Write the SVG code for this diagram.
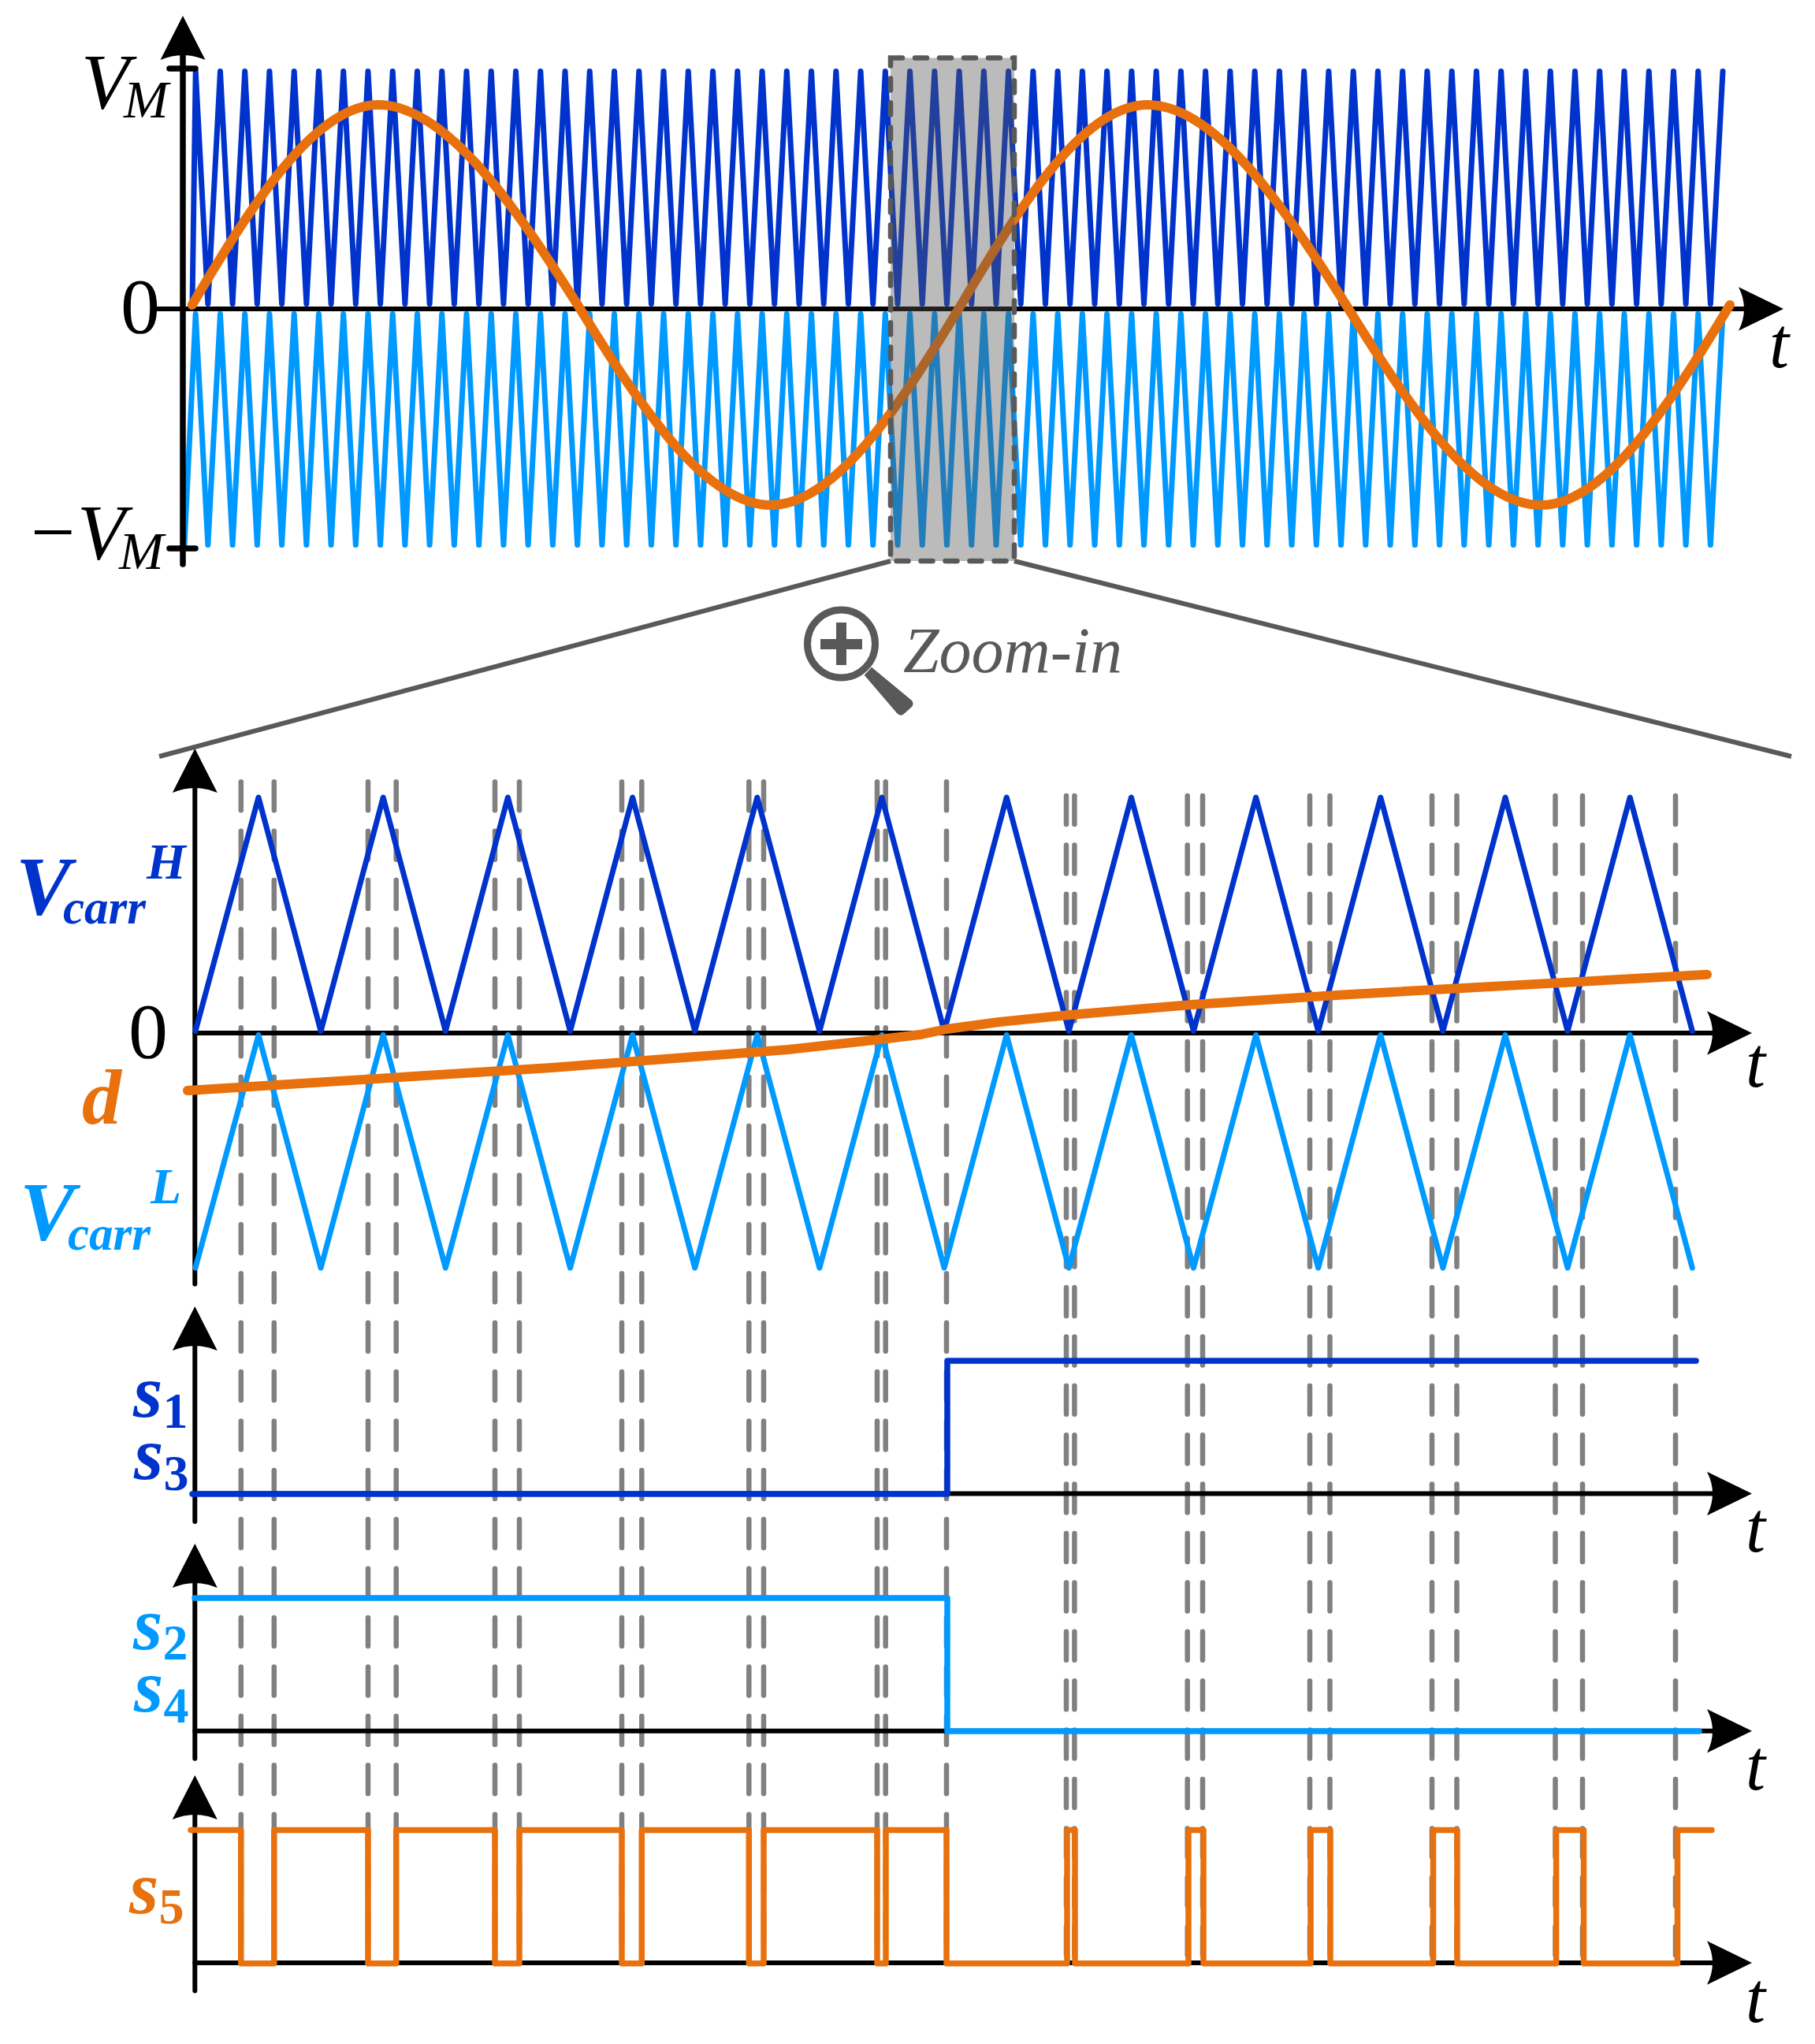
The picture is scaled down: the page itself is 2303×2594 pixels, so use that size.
<svg xmlns="http://www.w3.org/2000/svg" width="2303" height="2594" viewBox="0 0 2303 2594">
<style>
.ln{fill:none;stroke-linejoin:round;stroke-linecap:round}
.k{fill:none;stroke:#000;stroke-linecap:round}
.hi{stroke:#0033CC}.lo{stroke:#0099FF}.or{stroke:#E8700D}
.dash{fill:none;stroke:#808080;stroke-width:6.5;stroke-linecap:round;stroke-dasharray:36 26.4}
text{font-family:"Liberation Serif","Times New Roman",serif}
.i{font-style:italic}.bi{font-style:italic;font-weight:bold}.b{font-weight:bold}
.fhi{fill:#0033CC}.flo{fill:#0099FF}.for{fill:#E8700D}
.gy{fill:#595959}
</style>
<defs>
<path id="up" d="M0,0L28.5,56Q0,44 -28.5,56Z" fill="#000"/>
<path id="right" d="M0,0L-57,-27.8Q-43,0 -57,27.8Z" fill="#000"/>
</defs>
<rect width="2303" height="2594" fill="#fff"/>

<g id="overview-plot">
<path class="ln hi" stroke-width="7" d="M244,385.5L248.2,90.5l15.6275 295 15.6275 -295 15.6275 295 15.6275 -295 15.6275 295 15.6275 -295 15.6275 295 15.6275 -295 15.6275 295 15.6275 -295 15.6275 295 15.6275 -295 15.6275 295 15.6275 -295 15.6275 295 15.6275 -295 15.6275 295 15.6275 -295 15.6275 295 15.6275 -295
15.6275 295 15.6275 -295 15.6275 295 15.6275 -295 15.6275 295 15.6275 -295 15.6275 295 15.6275 -295 15.6275 295 15.6275 -295 15.6275 295 15.6275 -295 15.6275 295 15.6275 -295 15.6275 295 15.6275 -295 15.6275 295 15.6275 -295 15.6275 295 15.6275 -295
15.6275 295 15.6275 -295 15.6275 295 15.6275 -295 15.6275 295 15.6275 -295 15.6275 295 15.6275 -295 15.6275 295 15.6275 -295 15.6275 295 15.6275 -295 15.6275 295 15.6275 -295 15.6275 295 15.6275 -295 15.6275 295 15.6275 -295 15.6275 295 15.6275 -295
15.6275 295 15.6275 -295 15.6275 295 15.6275 -295 15.6275 295 15.6275 -295 15.6275 295 15.6275 -295 15.6275 295 15.6275 -295 15.6275 295 15.6275 -295 15.6275 295 15.6275 -295 15.6275 295 15.6275 -295 15.6275 295 15.6275 -295 15.6275 295 15.6275 -295
15.6275 295 15.6275 -295 15.6275 295 15.6275 -295 15.6275 295 15.6275 -295 15.6275 295 15.6275 -295 15.6275 295 15.6275 -295 15.6275 295 15.6275 -295 15.6275 295 15.6275 -295 15.6275 295 15.6275 -295 15.6275 295 15.6275 -295 15.6275 295 15.6275 -295
15.6275 295 15.6275 -295 15.6275 295 15.6275 -295 15.6275 295 15.6275 -295 15.6275 295 15.6275 -295 15.6275 295 15.6275 -295 15.6275 295 15.6275 -295 15.6275 295 15.6275 -295 15.6275 295 15.6275 -295 15.6275 295 15.6275 -295 15.6275 295 15.6275 -295
15.6275 295 15.6275 -295 15.6275 295 15.6275 -295"/>
<path class="ln lo" stroke-width="7" d="M234,691.5L248.2,398.5l15.6275 293 15.6275 -293 15.6275 293 15.6275 -293 15.6275 293 15.6275 -293 15.6275 293 15.6275 -293 15.6275 293 15.6275 -293 15.6275 293 15.6275 -293 15.6275 293 15.6275 -293 15.6275 293 15.6275 -293 15.6275 293 15.6275 -293 15.6275 293 15.6275 -293
15.6275 293 15.6275 -293 15.6275 293 15.6275 -293 15.6275 293 15.6275 -293 15.6275 293 15.6275 -293 15.6275 293 15.6275 -293 15.6275 293 15.6275 -293 15.6275 293 15.6275 -293 15.6275 293 15.6275 -293 15.6275 293 15.6275 -293 15.6275 293 15.6275 -293
15.6275 293 15.6275 -293 15.6275 293 15.6275 -293 15.6275 293 15.6275 -293 15.6275 293 15.6275 -293 15.6275 293 15.6275 -293 15.6275 293 15.6275 -293 15.6275 293 15.6275 -293 15.6275 293 15.6275 -293 15.6275 293 15.6275 -293 15.6275 293 15.6275 -293
15.6275 293 15.6275 -293 15.6275 293 15.6275 -293 15.6275 293 15.6275 -293 15.6275 293 15.6275 -293 15.6275 293 15.6275 -293 15.6275 293 15.6275 -293 15.6275 293 15.6275 -293 15.6275 293 15.6275 -293 15.6275 293 15.6275 -293 15.6275 293 15.6275 -293
15.6275 293 15.6275 -293 15.6275 293 15.6275 -293 15.6275 293 15.6275 -293 15.6275 293 15.6275 -293 15.6275 293 15.6275 -293 15.6275 293 15.6275 -293 15.6275 293 15.6275 -293 15.6275 293 15.6275 -293 15.6275 293 15.6275 -293 15.6275 293 15.6275 -293
15.6275 293 15.6275 -293 15.6275 293 15.6275 -293 15.6275 293 15.6275 -293 15.6275 293 15.6275 -293 15.6275 293 15.6275 -293 15.6275 293 15.6275 -293 15.6275 293 15.6275 -293 15.6275 293 15.6275 -293 15.6275 293 15.6275 -293 15.6275 293 15.6275 -293
15.6275 293 15.6275 -293 15.6275 293 15.6275 -293"/>
<path class="k" stroke-width="7.5" d="M232,60V716M215,87H248M215,696H248"/>
<path class="k" stroke-width="6" stroke-linecap="butt" d="M200,392H2215"/>
<use href="#up" x="232" y="20"/>
<use href="#right" x="2263" y="392"/>
<path class="ln or" stroke-width="12" d="M243.8,387C322.5,254 401.2,133 480,133C564.3,133 648.7,254 733,387C814.7,520 896.3,641 978,641C1058.5,641 1139,520 1219.4,387C1298.3,254 1377.1,133 1456,133C1540,133 1624,254 1708,387C1790.3,520 1872.7,641 1955,641C2035,641 2115,520 2195,387"/>
<text class="i" x="103" y="137" font-size="100">V</text>
<text class="i" x="157" y="149" font-size="68">M</text>
<text x="39" y="709" font-size="100">−</text>
<text class="i" x="98" y="709" font-size="100">V</text>
<text class="i" x="151" y="722" font-size="68">M</text>
<text x="153" y="422" font-size="100">0</text>
<text class="i" x="2245" y="466" font-size="90">t</text>
</g>

<g id="zoom-window">
<path d="M1130,712L202,960M1287,712L2273,960" fill="none" stroke="#595959" stroke-width="6"/>
<rect x="1130" y="73.5" width="157" height="638.5" fill="#555" fill-opacity=".4"/>
<rect x="1130" y="73.5" width="157" height="638.5" fill="none" stroke="#595959" stroke-width="6.5" stroke-linecap="round" stroke-dasharray="15 16"/>
</g>

<g id="zoom-label">
<circle cx="1067.5" cy="817" r="43" fill="none" stroke="#595959" stroke-width="9"/>
<path class="gy" d="M1041,811H1061V790H1074V811H1094V824H1074V844H1061V824H1041Z"/>
<path class="gy" d="M1106,846.7L1157,889Q1160,893 1157,897L1147,906Q1143,910 1138,905L1096.7,856.7Z"/>
<text class="i gy" x="1146" y="853" font-size="82">Zoom-in</text>
</g>

<g id="switching-instants">
<path class="dash" d="M305.8,992.3V2490M347.8,992.3V2490M467,992.3V2490M502.7,992.3V2490M628,992.3V2490M659,992.3V2490M789,992.3V2490M814.3,992.3V2490M950.3,992.3V2490M969,992.3V2490M1113,992.3V2490M1123.7,992.3V2490M1201,992.3V2490"/>
<path class="dash" d="M1353,1010V2490M1363.4,1010V2490M1506.7,1010V2490M1526,1010V2490M1662,1010V2490M1687.5,1010V2490M1817,1010V2490M1848.5,1010V2490M1973.5,1010V2490M2008,1010V2490M2126,1010V2490"/>
</g>

<g id="carrier-plot">
<path class="k" stroke-width="6" d="M247.3,1000V1629.6"/>
<path class="k" stroke-width="6" stroke-linecap="butt" d="M247.3,1311H2175"/>
<use href="#up" x="247.3" y="950"/>
<use href="#right" x="2223" y="1311"/>
<path class="ln hi" stroke-width="7" d="M248,1308.5L328,1012l79.1 296.5 79.1 -296.5 79.1 296.5 79.1 -296.5 79.1 296.5 79.1 -296.5 79.1 296.5 79.1 -296.5 79.1 296.5 79.1 -296.5 79.1 296.5 79.1 -296.5 79.1 296.5 79.1 -296.5 79.1 296.5 79.1 -296.5 79.1 296.5 79.1 -296.5 79.1 296.5 79.1 -296.5 79.1 296.5 79.1 -296.5 79.1 296.5"/>
<path class="ln lo" stroke-width="7" d="M248,1609L328,1313.5l79.1 295.5 79.1 -295.5 79.1 295.5 79.1 -295.5 79.1 295.5 79.1 -295.5 79.1 295.5 79.1 -295.5 79.1 295.5 79.1 -295.5 79.1 295.5 79.1 -295.5 79.1 295.5 79.1 -295.5 79.1 295.5 79.1 -295.5 79.1 295.5 79.1 -295.5 79.1 295.5 79.1 -295.5 79.1 295.5 79.1 -295.5 79.1 295.5"/>
<path class="ln or" stroke-width="12" d="M238,1384L700,1355L1000,1332L1117,1319L1169.6,1312.7L1201,1306L1268,1297L1357,1288L1515.6,1274.7L1700,1262.7L2166,1236.8"/>
<text class="bi fhi" x="20" y="1160" font-size="105">V</text>
<text class="bi fhi" x="80" y="1172" font-size="61">carr</text>
<text class="bi fhi" x="186" y="1115" font-size="64">H</text>
<text class="bi flo" x="25" y="1573" font-size="105">V</text>
<text class="bi flo" x="86" y="1586" font-size="61">carr</text>
<text class="bi flo" x="191" y="1527" font-size="64">L</text>
<text x="163" y="1342" font-size="100">0</text>
<text class="bi for" x="104" y="1426" font-size="100">d</text>
<text class="i" x="2215" y="1379" font-size="90">t</text>
</g>

<g id="s1-s3-plot">
<path class="k" stroke-width="6" d="M247.3,1708V1931"/>
<path class="k" stroke-width="6" stroke-linecap="butt" d="M247.3,1895.5H2175"/>
<use href="#up" x="247.3" y="1658"/>
<use href="#right" x="2223" y="1895.5"/>
<path class="ln hi" stroke-width="7.5" d="M244,1896H1202V1727H2152"/>
<text class="bi fhi" x="169" y="1798" font-size="96">s</text>
<text class="b fhi" x="206.5" y="1812" font-size="64">1</text>
<text class="bi fhi" x="170" y="1877" font-size="96">s</text>
<text class="b fhi" x="207.5" y="1891" font-size="64">3</text>
<text class="i" x="2215" y="1969" font-size="90">t</text>
</g>

<g id="s2-s4-plot">
<path class="k" stroke-width="6" d="M247.3,2009V2231.8"/>
<path class="k" stroke-width="6" stroke-linecap="butt" d="M247.3,2196.8H2175"/>
<use href="#up" x="247.3" y="1959"/>
<use href="#right" x="2223" y="2196.8"/>
<path class="ln lo" stroke-width="7.5" d="M247,2028H1202V2197H2156"/>
<text class="bi flo" x="169" y="2093" font-size="96">s</text>
<text class="b flo" x="206.5" y="2106" font-size="64">2</text>
<text class="bi flo" x="170" y="2172" font-size="96">s</text>
<text class="b flo" x="207.5" y="2186" font-size="64">4</text>
<text class="i" x="2215" y="2271" font-size="90">t</text>
</g>

<g id="s5-plot">
<path class="k" stroke-width="6" d="M247.3,2303V2526.6"/>
<path class="k" stroke-width="6" stroke-linecap="butt" d="M247.3,2491H2175"/>
<use href="#up" x="247.3" y="2253"/>
<use href="#right" x="2223" y="2491"/>
<path class="ln or" stroke-width="7.5" d="M242,2322.5H305.8V2491.7H347.8V2322.5H467V2491.7H502.7V2322.5H628V2491.7H659V2322.5H789V2491.7H814.3V2322.5H950.3V2491.7H969V2322.5H1113V2491.7H1124V2322.5H1201V2491.7H1354V2322.5H1364V2491.7H1508V2322.5H1527V2491.7H1663V2322.5H1688V2491.7H1818.5V2322.5H1849V2491.7H1974.6V2322.5H2009.5V2491.7H2128.5V2322.5H2172"/>
<text class="bi for" x="164" y="2428" font-size="96">s</text>
<text class="b for" x="201.5" y="2441" font-size="64">5</text>
<text class="i" x="2215" y="2566" font-size="90">t</text>
</g>
</svg>
